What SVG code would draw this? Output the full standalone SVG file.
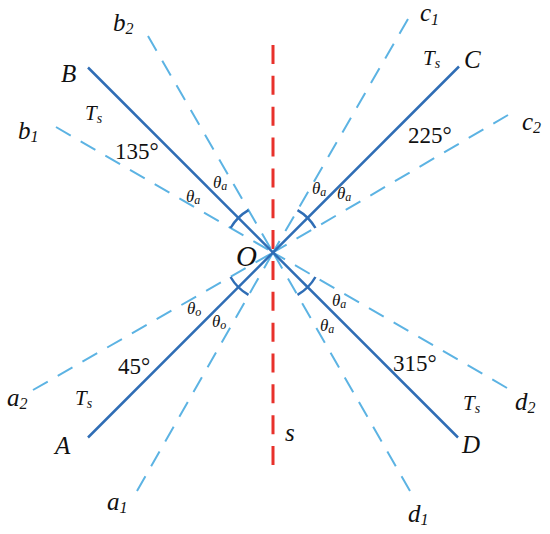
<svg xmlns="http://www.w3.org/2000/svg" width="550" height="534" viewBox="0 0 550 534">
<style>
.solid{stroke:#2F6DB5;stroke-width:2.5;fill:none;stroke-linecap:butt}
.dash{stroke:#5CB3E3;stroke-width:2;stroke-dasharray:17 11.5;fill:none}
.red{stroke:#E8312B;stroke-width:3;stroke-dasharray:19 11.85;fill:none}
.arc{stroke:#2F6DB5;stroke-width:2.5;fill:none}
.lbl{font-style:italic;font-size:25px}
.sub{font-size:16px}
.ts{font-style:italic;font-size:21px}
.tsub{font-size:14px}
.deg{font-style:normal;font-size:23px}
.th{font-style:italic;font-size:17px}
.thsub{font-size:12px}
</style>
<rect width="550" height="534" fill="#fff"/>
<g id="connectors">
  <line class="red" x1="273" y1="45" x2="273" y2="465"/>
  <line class="dash" x1="56" y1="127" x2="273" y2="252.5"/>
  <line class="dash" x1="148" y1="36" x2="273" y2="252.5"/>
  <line class="dash" x1="408" y1="19" x2="273" y2="252.5"/>
  <line class="dash" x1="508" y1="115" x2="273" y2="252.5"/>
  <line class="dash" x1="33" y1="390" x2="273" y2="252.5"/>
  <line class="dash" x1="137" y1="491" x2="273" y2="252.5"/>
  <line class="dash" x1="507" y1="388" x2="273" y2="252.5"/>
  <line class="dash" x1="410" y1="491" x2="273" y2="252.5"/>
  <line class="solid" x1="88" y1="67.5" x2="458" y2="437.5"/>
  <line class="solid" x1="88" y1="437.5" x2="459" y2="66.5"/>
  <path class="arc" d="M230.56,228 A49,49 0 0 1 248.5,210.06"/>
  <path class="arc" d="M297.5,210.06 A49,49 0 0 1 315.44,228"/>
  <path class="arc" d="M315.44,277 A49,49 0 0 1 297.5,294.94"/>
  <path class="arc" d="M248.5,294.94 A49,49 0 0 1 230.56,277"/>
</g>
<g font-family="Liberation Serif, Times New Roman, serif" fill="#111">
<g id="node-O"><text class="lbl" x="236" y="266" style="font-size:29px">O</text></g>
<g id="node-B">
  <text class="lbl" x="61" y="82">B</text>
  <text class="ts" x="85" y="120">T<tspan class="tsub" dy="3">s</tspan></text>
  <text class="deg" x="115" y="159">135°</text>
</g>
<g id="node-C">
  <text class="lbl" x="464" y="68">C</text>
  <text class="ts" x="423" y="65">T<tspan class="tsub" dy="3">s</tspan></text>
  <text class="deg" x="408" y="143">225°</text>
</g>
<g id="node-A">
  <text class="lbl" x="55" y="454">A</text>
  <text class="ts" x="75" y="405">T<tspan class="tsub" dy="3">s</tspan></text>
  <text class="deg" x="118" y="374">45°</text>
</g>
<g id="node-D">
  <text class="lbl" x="462" y="453">D</text>
  <text class="ts" x="463" y="410">T<tspan class="tsub" dy="3">s</tspan></text>
  <text class="deg" x="393" y="371">315°</text>
</g>
<g id="node-b2"><text class="lbl" x="113" y="31">b<tspan class="sub" dy="3">2</tspan></text></g>
<g id="node-b1"><text class="lbl" x="18" y="139">b<tspan class="sub" dy="3">1</tspan></text></g>
<g id="node-c1"><text class="lbl" x="420" y="21">c<tspan class="sub" dy="4">1</tspan></text></g>
<g id="node-c2"><text class="lbl" x="522" y="130">c<tspan class="sub" dy="3">2</tspan></text></g>
<g id="node-a2"><text class="lbl" x="7" y="406">a<tspan class="sub" dy="3">2</tspan></text></g>
<g id="node-a1"><text class="lbl" x="107" y="510">a<tspan class="sub" dy="3">1</tspan></text></g>
<g id="node-d2"><text class="lbl" x="515" y="410">d<tspan class="sub" dy="3">2</tspan></text></g>
<g id="node-d1"><text class="lbl" x="408" y="522">d<tspan class="sub" dy="3">1</tspan></text></g>
<g id="node-s"><text class="lbl" x="285" y="441">s</text></g>
<g id="angles">
  <text class="th" x="213" y="188">θ<tspan class="thsub" dy="2">a</tspan></text>
  <text class="th" x="186" y="202">θ<tspan class="thsub" dy="2">a</tspan></text>
  <text class="th" x="312" y="194">θ<tspan class="thsub" dy="2">a</tspan></text>
  <text class="th" x="337" y="199">θ<tspan class="thsub" dy="2">a</tspan></text>
  <text class="th" x="187" y="314">θ<tspan class="thsub" dy="2">o</tspan></text>
  <text class="th" x="212" y="327">θ<tspan class="thsub" dy="2">o</tspan></text>
  <text class="th" x="332" y="306">θ<tspan class="thsub" dy="2">a</tspan></text>
  <text class="th" x="320" y="331">θ<tspan class="thsub" dy="2">a</tspan></text>
</g>
</g>
</svg>
